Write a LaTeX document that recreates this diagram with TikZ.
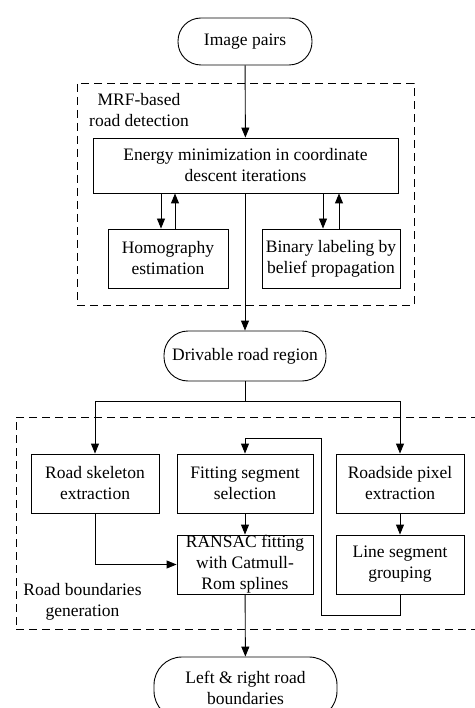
\documentclass[tikz,border=0pt]{standalone}
\usepackage{fontspec}
\setmainfont{Liberation Serif}
\usetikzlibrary{arrows.meta}
\tikzset{
  every node/.style={font=\fontsize{17.5pt}{21pt}\selectfont, inner sep=0pt, align=center},
  boxnode/.style={draw, line width=0.9pt, rectangle},
  termnode/.style={draw, line width=0.9pt, rectangle, rounded corners=23pt},
  groupbox/.style={draw, dashed, dash pattern=on 8pt off 5pt, line width=0.9pt, rectangle},
  conn/.style={line width=0.9pt, -{Triangle[length=10pt,width=8pt]}},
  plainline/.style={line width=0.9pt},
}
\begin{document}
\begin{tikzpicture}[x=1pt,y=-1pt]
\useasboundingbox (0,0) rectangle (474,708);
% group boxes
\node[groupbox, minimum width=337pt, minimum height=222pt] (g1) at (245.5,194) {};
\node[groupbox, minimum width=470pt, minimum height=212pt] (g2) at (251,523) {};
\node (l1) at (139,110.5) {MRF-based\\road detection};
\node (l2) at (82.5,601.5) {Road boundaries\\generation};
% nodes
\node[termnode, minimum width=134pt, minimum height=47pt] (img) at (245,41.5) {Image pairs};
\node[boxnode, minimum width=305pt, minimum height=55pt] (en) at (245.5,165.5) {Energy minimization in coordinate\\descent iterations};
\node[boxnode, minimum width=120pt, minimum height=59pt] (ho) at (168,258.5) {Homography\\estimation};
\node[boxnode, minimum width=138pt, minimum height=59pt] (bi) at (331,258.5) {Binary labeling by\\belief propagation};
\node[termnode, minimum width=162pt, minimum height=50pt, rounded corners=24pt] (dr) at (245,356) {Drivable road region};
\node[boxnode, minimum width=128pt, minimum height=59pt] (sk) at (95,483.5) {Road skeleton\\extraction};
\node[boxnode, minimum width=136pt, minimum height=59pt] (fi) at (245,483.5) {Fitting segment\\selection};
\node[boxnode, minimum width=128pt, minimum height=59pt] (rs) at (400,483.5) {Roadside pixel\\extraction};
\node[boxnode, minimum width=136pt, minimum height=59pt] (ra) at (245,564.5) {\fontsize{17.5pt}{21.5pt}\selectfont RANSAC fitting\\with Catmull-\\Rom splines};
\node[boxnode, minimum width=128pt, minimum height=59pt] (ls) at (400,564.5) {Line segment\\grouping};
\node[termnode, minimum width=183pt, minimum height=62pt, rounded corners=28pt] (lr) at (245.5,688) {Left \& right road\\boundaries};
% helper coordinates
\coordinate (split) at (245,401);
\coordinate (loopa) at (400,615);
\coordinate (loopb) at (321,615);
\coordinate (loopc) at (321,438);
\coordinate (loopd) at (245,438);
% connectors
\draw[conn] ([xshift=-7pt]ho.north |- en.south) -- ([xshift=-7pt]ho.north);
\draw[conn] ([xshift=7pt]ho.north) -- ([xshift=7pt]ho.north |- en.south);
\draw[conn] ([xshift=-8pt]bi.north |- en.south) -- ([xshift=-8pt]bi.north);
\draw[conn] ([xshift=8pt]bi.north) -- ([xshift=8pt]bi.north |- en.south);
\draw[conn] (img) -- (en);
\draw[conn] (en.south -| dr.north) -- (dr.north);
\draw[plainline] (dr.south) -- (split);
\draw[conn] (split) -| (sk.north);
\draw[conn] (split) -| (rs.north);
\draw[conn] (fi) -- (ra);
\draw[conn] (rs) -- (ls);
\draw[conn] (sk.south) |- (ra.west);
\draw[conn] (ls.south) -- (loopa) -- (loopb) -- (loopc) -- (loopd) -- (fi.north);
\draw[conn] (ra) -- (lr);
\end{tikzpicture}
\end{document}
